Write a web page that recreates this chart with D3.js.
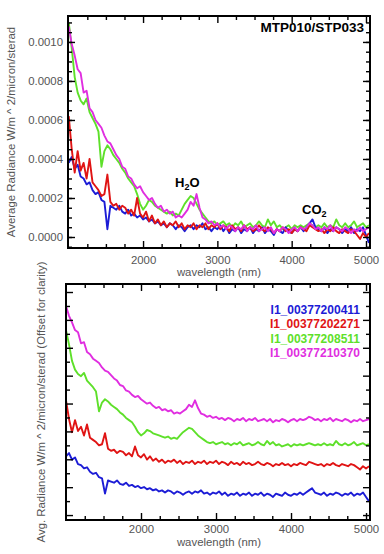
<!DOCTYPE html>
<html>
<head>
<meta charset="utf-8">
<script src="https://cdn.jsdelivr.net/npm/d3@7"></script>
<style>
body { margin: 0; background: #fff; }
svg { display: block; font-family: "Liberation Sans", Arial, sans-serif; }
</style>
</head>
<body>
<script>
const width = 384;
const height = 554;

// radiance values are typed in units of 1e-5 W/m^2/micron/sterad
const UNIT = 1e-5;
// wavelength grid (nm), one sample every 40 nm
const wavelengths = d3.range(1000, 5041, 40);

const names = ["I1_00377200411", "I1_00377202271", "I1_00377208511", "I1_00377210370"];
const colors = ["#1c1cd6", "#e01414", "#5ee02a", "#e02ee0"];

const blueVals = [38,41,35,37,31,30,27,28,24,22,23,19,18,4,16,15,14,16,13,12,14,11,12,10,11,9,10,8,9,7,
  8,6,7,5,7,6,4,6,5,3,5,6,4,6,5,7,4,5,3,5,4,6,3,5,2,4,3,5,2,4,3,5,2,4,3,5,2,4,3,1,4,3,2,5,3,2,4,3,5,3,
  5,7,9,5,4,3,5,2,4,3,5,4,2,4,3,5,2,4,3,5,1,-3];
const redVals = [62,45,33,44,34,38,30,40,28,26,24,21,22,32,18,16,17,14,16,15,12,14,11,20,12,10,13,8,11,7,
  9,6,8,5,7,6,8,5,7,4,6,5,7,4,6,5,7,4,6,5,7,4,6,5,3,6,4,5,3,6,4,5,3,4,6,4,3,5,4,2,4,3,5,3,4,2,4,3,5,4,
  3,6,5,4,3,4,2,4,3,5,3,2,4,3,2,4,3,1,-1,2,0,2];
const greenVals = [110,97,82,74,70,68,71,64,61,58,54,36,44,47,45,42,40,38,35,33,30,28,26,22,17,14,16,19,18,16,
  15,14,13,12,13,11,12,11,14,17,19,21,20,17,14,12,10,8,7,8,6,7,8,6,7,5,7,6,8,5,6,7,5,6,8,6,5,9,6,8,
  5,6,4,5,6,4,6,5,6,5,6,7,6,5,6,5,7,5,6,5,9,6,5,7,5,6,8,5,6,7,5,6];
const magentaVals = [108,99,93,86,84,74,75,66,64,60,58,56,52,49,48,45,42,40,36,35,31,30,27,25,26,23,21,19,20,17,
  15,16,13,14,12,13,10,11,10,12,14,18,16,22,15,10,9,7,8,6,7,5,6,4,6,5,3,5,4,6,3,5,4,6,3,4,5,3,5,2,
  4,3,5,4,2,4,5,3,5,4,5,7,6,4,5,3,5,4,6,3,5,4,3,5,4,2,4,3,5,3,4,5];
const series = [blueVals, redVals, greenVals, magentaVals];
// vertical offsets used in the lower panel (same units)
const offsets = [0, 27, 43, 67];

const xTickLabels = [2000, 3000, 4000, 5000];
const yTickLabels = [0, 0.0002, 0.0004, 0.0006, 0.0008, 0.0010];

const svg = d3.select("body")
  .append("svg")
  .attr("width", width)
  .attr("height", height)
  .attr("viewBox", [0, 0, width, height]);

const drawAxes = (x, y, yMajor, yMinor, showYLabels, labelPad) => {
  const [x0, x1] = x.range();
  const [y0, y1] = y.range();
  const xMinor = d3.range(1250, 5001, 250).filter(d => d % 1000 !== 0);
  const axes = [
    [d3.axisBottom(x), y0, "x", xTickLabels, xMinor],
    [d3.axisTop(x), y1, "x", xTickLabels, xMinor],
    [d3.axisLeft(y), x0, "y", yMajor, yMinor],
    [d3.axisRight(y), x1, "y", yMajor, yMinor]
  ];
  axes.forEach(([ax, pos, dim, major, minor], i) => {
    const tr = dim === "x" ? `translate(0,${pos})` : `translate(${pos},0)`;
    const labelled = i === 0 || (i === 2 && showYLabels);
    const gMaj = svg.append("g").attr("transform", tr)
      .call(ax.tickValues(major).tickSize(-7)
        .tickPadding(i === 0 ? labelPad : 5)
        .tickFormat(labelled ? (dim === "x" ? d3.format("d") : d3.format(".4f")) : ""));
    const gMin = svg.append("g").attr("transform", tr)
      .call(ax.tickValues(minor).tickSize(-4).tickFormat(""));
    [gMaj, gMin].forEach(g => {
      g.select(".domain").remove();
      g.selectAll("line").attr("stroke", "#000").attr("stroke-width", 1.4);
      g.selectAll("text").attr("font-size", 11.4).attr("fill", "#555")
        .attr("font-family", "Liberation Sans, Arial, sans-serif");
    });
  });
  svg.append("rect")
    .attr("x", x0).attr("y", y1)
    .attr("width", x1 - x0).attr("height", y0 - y1)
    .attr("fill", "none").attr("stroke", "#000").attr("stroke-width", 2);
};

// ---------- top panel ----------
const xTop = d3.scaleLinear().domain([990, 5054]).range([68, 370]);
const yTop = d3.scaleLinear().domain([-0.0000564, 0.001133]).range([248, 16]);

const lineTop = vals => d3.line()
  .x((d, i) => xTop(wavelengths[i]))
  .y(d => yTop(d * UNIT))(vals);

const drawOrder = [2, 0, 1, 3];
drawOrder.forEach(k => {
  svg.append("path")
    .attr("d", lineTop(series[k]))
    .attr("fill", "none")
    .attr("stroke", colors[k])
    .attr("stroke-width", 1.9)
    .attr("stroke-linejoin", "round");
});

drawAxes(xTop, yTop, yTickLabels, d3.range(-0.00005, 0.00111, 0.00005), true, 8);

svg.append("text")
  .attr("x", 219).attr("y", 276)
  .attr("text-anchor", "middle")
  .attr("font-size", 11.4).attr("fill", "#555")
  .text("wavelength (nm)");

svg.append("text")
  .attr("transform", "translate(15,132) rotate(-90)")
  .attr("text-anchor", "middle")
  .attr("font-size", 11.4).attr("fill", "#555")
  .text("Average Radiance W/m ^ 2/micron/sterad");

svg.append("text")
  .attr("x", 364).attr("y", 32)
  .attr("text-anchor", "end")
  .attr("font-size", 13.5).attr("font-weight", "bold")
  .text("MTP010/STP033");

const h2o = svg.append("text")
  .attr("x", 175).attr("y", 187)
  .attr("font-size", 13).attr("font-weight", "bold");
h2o.append("tspan").text("H");
h2o.append("tspan").attr("font-size", 9).attr("dy", 3).text("2");
h2o.append("tspan").attr("dy", -3).text("O");

const co2 = svg.append("text")
  .attr("x", 302).attr("y", 214)
  .attr("font-size", 13).attr("font-weight", "bold");
co2.append("tspan").text("CO");
co2.append("tspan").attr("font-size", 9).attr("dy", 3).text("2");

// ---------- bottom panel ----------
const xBot = d3.scaleLinear().domain([1000, 5053]).range([66, 370]);
const yBot = d3.scaleLinear().domain([-0.0002, 0.00195]).range([520, 284]);

const lineBot = (vals, off) => d3.line()
  .x((d, i) => xBot(wavelengths[i]))
  .y(d => yBot((d + off) * UNIT))(vals);

[0, 1, 2, 3].forEach(k => {
  svg.append("path")
    .attr("d", lineBot(series[k], offsets[k]))
    .attr("fill", "none")
    .attr("stroke", colors[k])
    .attr("stroke-width", 1.9)
    .attr("stroke-linejoin", "round");
});

const botTicks = d3.range(-0.000155, 0.00195, 0.000127);
drawAxes(xBot, yBot, botTicks.filter((d, i) => i % 2 === 0), botTicks.filter((d, i) => i % 2 === 1), false, 5);

svg.append("text")
  .attr("x", 219).attr("y", 546)
  .attr("text-anchor", "middle")
  .attr("font-size", 11.4).attr("fill", "#555")
  .text("wavelength (nm)");

svg.append("text")
  .attr("transform", "translate(45,402) rotate(-90)")
  .attr("text-anchor", "middle")
  .attr("font-size", 11.4).attr("fill", "#555")
  .text("Avg. Radiance W/m ^ 2/micron/sterad (Offset for clarity)");

names.forEach((n, i) => {
  svg.append("text")
    .attr("x", 360).attr("y", 314 + i * 14.3)
    .attr("text-anchor", "end")
    .attr("font-size", 12).attr("font-weight", "bold")
    .attr("fill", colors[i])
    .text(n);
});
</script>
</body>
</html>
